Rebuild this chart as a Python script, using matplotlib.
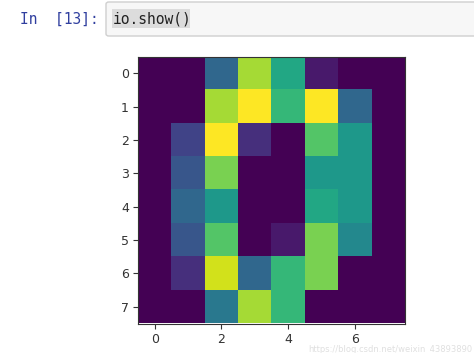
import matplotlib
matplotlib.use("Agg")
import matplotlib.pyplot as plt
from matplotlib.patches import FancyBboxPatch, Rectangle
import numpy as np

# sklearn digits[0] pixel intensities (8x8)
row0 = [0, 0, 5, 13, 9, 1, 0, 0]
row1 = [0, 0, 13, 15, 10, 15, 5, 0]
row2 = [0, 3, 15, 2, 0, 11, 8, 0]
row3 = [0, 4, 12, 0, 0, 8, 8, 0]
row4 = [0, 5, 8, 0, 0, 9, 8, 0]
row5 = [0, 4, 11, 0, 1, 12, 7, 0]
row6 = [0, 2, 14, 5, 10, 12, 0, 0]
row7 = [0, 0, 6, 13, 10, 0, 0, 0]
x_ticks = [0, 2, 4, 6]
y_ticks = [0, 1, 2, 3, 4, 5, 6, 7]

image = np.array([row0, row1, row2, row3, row4, row5, row6, row7], dtype=float)

W, H = 474, 353
fig = plt.figure(figsize=(W / 100, H / 100), dpi=100)
fig.patch.set_facecolor("white")

# notebook cell header
fig.text(20 / W, 1 - 19 / H, "In  [13]:", color="#303F9F", fontsize=10.5,
         family="DejaVu Sans Mono", va="center", ha="left")
box = FancyBboxPatch((106 / W, 1 - 36 / H), 380 / W, 34 / H,
                     boxstyle="round,pad=0,rounding_size=0.006",
                     transform=fig.transFigure, facecolor="#F7F7F7",
                     edgecolor="#CFCFCF", linewidth=1.0)
fig.patches.append(box)
fig.patches.append(Rectangle((112 / W, 1 - 28 / H), 78 / W, 19 / H,
                             transform=fig.transFigure, facecolor="#DCDCDC",
                             edgecolor="none"))
fig.text(113 / W, 1 - 19 / H, "io.show()", color="#222222", fontsize=10.5,
         family="DejaVu Sans Mono", va="center", ha="left")

ax = fig.add_axes([138 / W, 1 - 324 / H, 267 / W, 268 / H])
ax.imshow(image, cmap="viridis")
ax.set_xticks(x_ticks)
ax.set_yticks(y_ticks)
ax.tick_params(labelsize=9, colors="#333333", length=3.5, pad=3)
for s in ax.spines.values():
    s.set_color("#333333")
    s.set_linewidth(0.8)

fig.text(472 / W, 1 - 349.5 / H, "https://blog.csdn.net/weixin_43893890",
         color="#D8D8D8", fontsize=6, ha="right", va="center", alpha=0.8)

fig.savefig("out.png", dpi=100)
